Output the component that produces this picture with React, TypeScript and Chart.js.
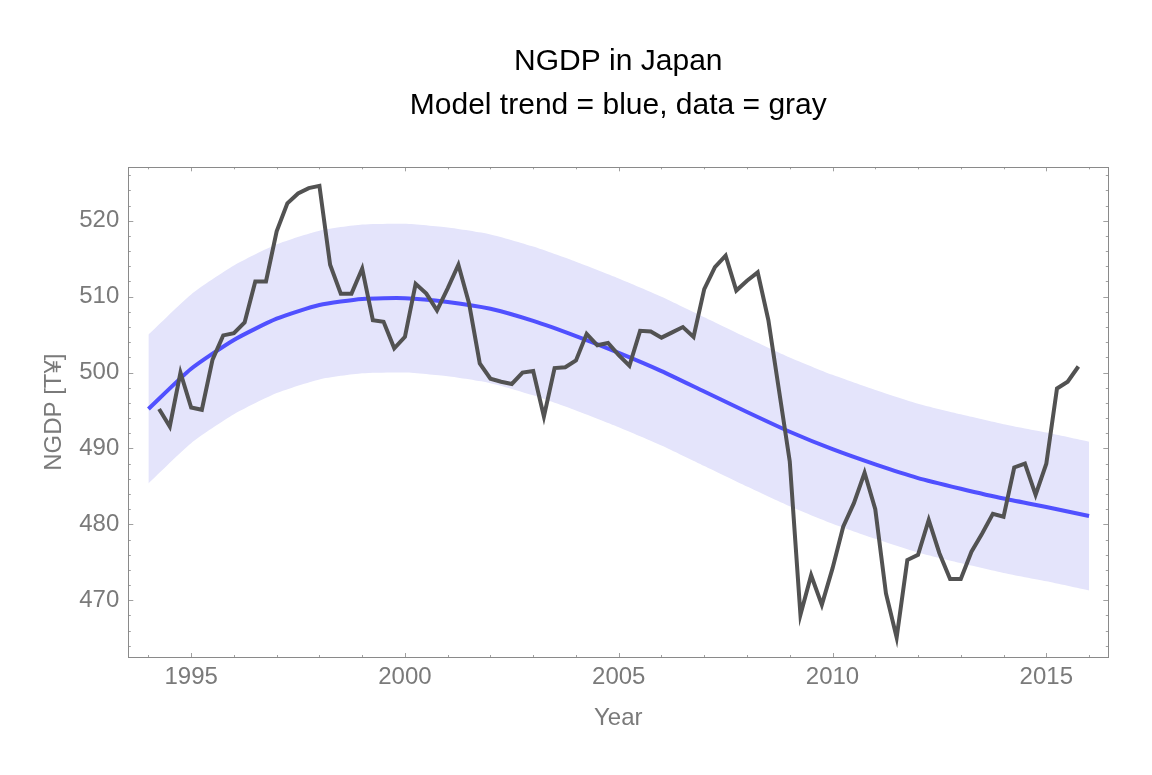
import React, { useEffect, useRef } from "react";
import Chart from "chart.js/auto";

// model trend (yearly) and its band
const trendYears = [1994, 1995, 1996, 1997, 1998, 1999, 2000, 2001, 2002, 2003, 2004, 2005, 2006, 2007, 2008, 2009, 2010, 2011, 2012, 2013, 2014, 2015, 2016];
const trendValues = [495.2, 500.5, 504.3, 507.1, 508.9, 509.7, 509.8, 509.3, 508.4, 506.8, 504.8, 502.6, 500.2, 497.5, 494.8, 492.2, 489.9, 487.9, 486.1, 484.7, 483.4, 482.3, 481.1];
const bandUpper = [505.0, 510.3, 514.1, 516.9, 518.7, 519.5, 519.6, 519.1, 518.2, 516.6, 514.6, 512.4, 510.0, 507.3, 504.6, 502.0, 499.7, 497.7, 495.9, 494.5, 493.2, 492.1, 490.9];
const bandLower = [485.4, 490.7, 494.5, 497.3, 499.1, 499.9, 500.0, 499.5, 498.6, 497.0, 495.0, 492.8, 490.4, 487.7, 485.0, 482.4, 480.1, 478.1, 476.3, 474.9, 473.6, 472.5, 471.3];

// quarterly NGDP data, first quarter at 1994.25
const dataStart = 1994.25;
const ngdp = [
  495.2, 492.9, 500.0,
  495.4, 495.1, 501.7, 504.9,
  505.2, 506.6, 512.0, 512.0,
  518.6, 522.3, 523.6, 524.3,
  524.6, 514.2, 510.4, 510.4,
  513.7, 506.9, 506.7, 503.2,
  504.7, 511.7, 510.4, 508.2,
  511.1, 514.2, 509.1, 501.2,
  499.2, 498.8, 498.5, 500.0,
  500.2, 494.2, 500.6, 500.7,
  501.6, 505.1, 503.6, 503.9,
  502.3, 500.9, 505.5, 505.4,
  504.6, 505.3, 506.0, 504.7,
  511.0, 513.9, 515.4, 510.8,
  512.1, 513.2, 506.9, 497.6,
  488.3, 468.1, 473.3, 469.4,
  474.2, 479.7, 482.8, 486.8,
  482.0, 470.9, 465.1, 475.3,
  476.0, 480.6, 476.2, 472.8,
  472.8, 476.4, 478.8, 481.4,
  481.0, 487.5, 488.0, 483.9,
  488.0, 497.9, 498.8, 500.8,
];

// frame tick marks
const xTickYears = [1994, 1995, 1996, 1997, 1998, 1999, 2000, 2001, 2002, 2003, 2004, 2005, 2006, 2007, 2008, 2009, 2010, 2011, 2012, 2013, 2014, 2015, 2016];
const yTickValues = [464, 466, 468, 470, 472, 474, 476, 478, 480, 482, 484, 486, 488, 490, 492, 494, 496, 498, 500, 502, 504, 506, 508, 510, 512, 514, 516, 518, 520, 522, 524, 526];

const FONT = "'Liberation Sans', Arial, sans-serif";
const LABEL_GRAY = "#7a7a7a";

const frameTicks = {
  id: "frameTicks",
  afterDatasetsDraw(chart) {
    const { ctx, chartArea, scales } = chart;
    const { left, right, top, bottom } = chartArea;
    ctx.save();
    ctx.lineWidth = 1;
    ctx.strokeStyle = "#a0a0a0";
    ctx.beginPath();
    xTickYears.forEach((yr) => {
      const px = Math.round(scales.x.getPixelForValue(yr)) + 0.5;
      const len = yr % 5 === 0 ? 4 : 2;
      ctx.moveTo(px, bottom);
      ctx.lineTo(px, bottom - len);
      ctx.moveTo(px, top);
      ctx.lineTo(px, top + len);
    });
    yTickValues.forEach((v) => {
      const py = Math.round(scales.y.getPixelForValue(v)) + 0.5;
      const len = v % 10 === 0 ? 5 : 2.5;
      ctx.moveTo(left, py);
      ctx.lineTo(left + len, py);
      ctx.moveTo(right, py);
      ctx.lineTo(right - len, py);
    });
    ctx.stroke();
    ctx.strokeStyle = "#8a8a8a";
    ctx.strokeRect(Math.round(left) + 0.5, Math.round(top) + 0.5, Math.round(right - left), Math.round(bottom - top));
    ctx.restore();
  },
};

const App = () => {
  const canvasRef = useRef(null);
  const chartRef = useRef(null);

  useEffect(() => {
    if (chartRef.current) chartRef.current.destroy();

    const trendPts = trendYears.map((yr, i) => ({ x: yr, y: trendValues[i] }));
    const upperPts = trendYears.map((yr, i) => ({ x: yr, y: bandUpper[i] }));
    const lowerPts = trendYears.map((yr, i) => ({ x: yr, y: bandLower[i] }));
    const dataPts = ngdp.map((v, i) => ({ x: dataStart + i * 0.25, y: v }));

    chartRef.current = new Chart(canvasRef.current.getContext("2d"), {
      type: "line",
      data: {
        datasets: [
          {
            label: "data",
            data: dataPts,
            borderColor: "#525252",
            borderWidth: 4,
            pointRadius: 0,
            fill: false,
            tension: 0,
            order: 0,
          },
          {
            label: "trend",
            data: trendPts,
            borderColor: "#5050ff",
            borderWidth: 4,
            pointRadius: 0,
            fill: false,
            tension: 0.2,
            order: 1,
          },
          {
            label: "upper",
            data: upperPts,
            borderWidth: 0,
            borderColor: "rgba(0,0,0,0)",
            backgroundColor: "#e4e4fb",
            pointRadius: 0,
            fill: "+1",
            tension: 0.2,
            order: 2,
          },
          {
            label: "lower",
            data: lowerPts,
            borderWidth: 0,
            borderColor: "rgba(0,0,0,0)",
            pointRadius: 0,
            fill: false,
            tension: 0.2,
            order: 3,
          },
        ],
      },
      options: {
        responsive: false,
        animation: false,
        devicePixelRatio: 1,
        layout: { padding: { left: 0, right: 43.7, top: 0, bottom: 0 } },
        plugins: {
          legend: { display: false },
          tooltip: { enabled: false },
          title: {
            display: true,
            fullSize: false,
            text: ["NGDP in Japan", "Model trend = blue, data = gray"],
            color: "#000000",
            font: { family: FONT, size: 30, weight: "normal", lineHeight: 1.477 },
            padding: { top: 39.6, bottom: 39.1 },
          },
        },
        scales: {
          x: {
            type: "linear",
            min: 1993.53,
            max: 2016.45,
            grid: { display: false, drawTicks: false },
            border: { display: false },
            ticks: {
              stepSize: 5,
              includeBounds: false,
              padding: 6.3,
              color: LABEL_GRAY,
              font: { family: FONT, size: 24 },
              maxRotation: 0,
              callback: (v) => String(v),
            },
            title: {
              display: true,
              text: "Year",
              color: LABEL_GRAY,
              font: { family: FONT, size: 24 },
              padding: { top: 0, bottom: 42.6 },
            },
            afterFit: (scale) => {
              scale.height = 118;
            },
          },
          y: {
            type: "linear",
            min: 462.53,
            max: 527.04,
            grid: { display: false, drawTicks: false },
            border: { display: false },
            ticks: {
              stepSize: 10,
              includeBounds: false,
              padding: 9,
              color: LABEL_GRAY,
              font: { family: FONT, size: 24 },
              callback: (v) => String(v),
            },
            title: {
              display: true,
              text: "NGDP [T¥]",
              color: LABEL_GRAY,
              font: { family: FONT, size: 24 },
              padding: { top: 39.6, bottom: 0 },
            },
            afterFit: (scale) => {
              scale.width = 128.3;
            },
          },
        },
      },
      plugins: [frameTicks],
    });

    return () => {
      if (chartRef.current) {
        chartRef.current.destroy();
        chartRef.current = null;
      }
    };
  }, []);

  return (
    <div style={{ position: "fixed", left: 0, top: 0, width: 1152, height: 775, background: "#ffffff" }}>
      <canvas ref={canvasRef} width={1152} height={775} style={{ width: 1152, height: 775 }} />
    </div>
  );
};

export default App;
